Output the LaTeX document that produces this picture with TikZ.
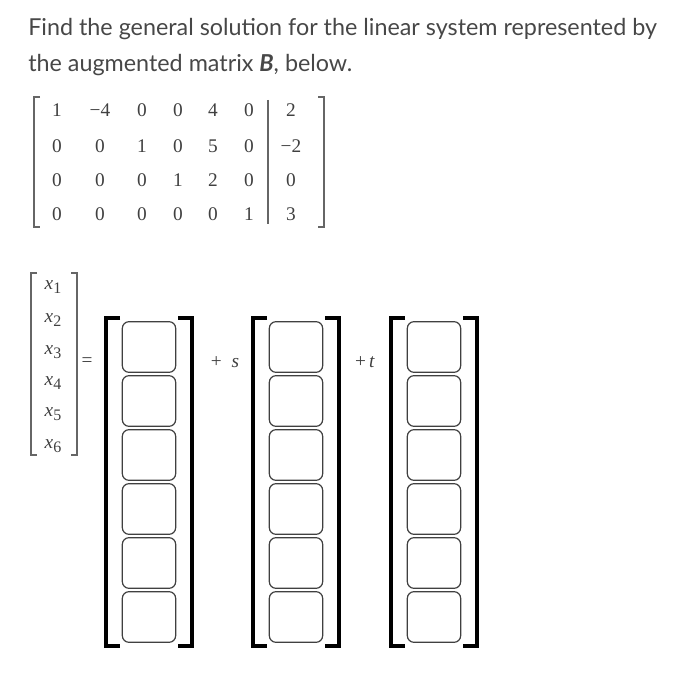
\documentclass[tikz,border=0pt]{standalone}
\usepackage{fontspec}
\setmainfont{Liberation Serif}
\newfontfamily\uifont{Lato}
\newfontfamily\serifit{Liberation Serif}
\newcommand{\mns}{\char"2212\relax}
\newcommand{\xv}[1]{{\serifit\itshape x}\raisebox{-3pt}{\fontsize{12}{12}\selectfont #1}}
\begin{document}
\begin{tikzpicture}[x=0.75pt,y=-0.75pt,
  q/.style={font=\uifont\fontsize{17.5}{20}\selectfont,text=black!72,anchor=west,inner sep=0},
  m/.style={font=\fontsize{14.5}{16}\selectfont,text=black!75,inner sep=0},
  thin br/.style={draw=black!60,line width=1pt},
  big br/.style={draw=black,line width=2.6pt},
  ansbox/.style={draw=black!75,line width=0.9pt,rounded corners=5pt,fill=white}]
\useasboundingbox (0,0) rectangle (700,695);
\node[q] (l1) at (28,29) {Find the general solution for the linear system represented by};
\node[q] (l2) at (28,65) {the augmented matrix \textbf{\textit{B}}, below.};
% augmented matrix
\draw[thin br] (40,97) -- (34,97) -- (34,227) -- (40,227);
\draw[thin br] (318,97) -- (324,97) -- (324,227) -- (318,227);
\draw[thin br] (268,100) -- (268,224);
\foreach \y/\a/\b/\c/\d/\e/\f/\g [count=\i] in {110/1/\mns 4/0/0/4/0/2,146/0/0/1/0/5/0/\mns 2,180/0/0/0/1/2/0/0,214/0/0/0/0/0/1/3}{
  \node[m] (a\i1) at (57,\y) {\a};
  \node[m] (a\i2) at (100,\y) {\b};
  \node[m] (a\i3) at (142,\y) {\c};
  \node[m] (a\i4) at (178,\y) {\d};
  \node[m] (a\i5) at (213,\y) {\e};
  \node[m] (a\i6) at (249,\y) {\f};
  \node[m] (a\i7) at (291,\y) {\g};
}
% x vector
\draw[thin br] (37,273) -- (31,273) -- (31,455) -- (37,455);
\draw[thin br] (71,273) -- (77,273) -- (77,455) -- (71,455);
\foreach \y [count=\i] in {287,320,352,383,414,446}
  \node[m] (x\i) at (53,\y) {\xv{\i}};
\node[m] (eq) at (87,362) {=};
\node[m] (ps) at (225,362) {+\ \ \textit{s}};
\node[m] (pt) at (365,362) {+\,\textit{t}};
% answer columns
\foreach \c/\x in {1/106,2/253,3/391}{
  \draw[big br] (\x+14,318) -- (\x,318) -- (\x,646) -- (\x+14,646);
  \draw[big br] (\x+72,318) -- (\x+86,318) -- (\x+86,646) -- (\x+72,646);
  \foreach \k in {0,...,5}
    \node[ansbox,minimum width=40pt,minimum height=38pt] (b\c\k) at (\x+43,347+54*\k) {};
}
\end{tikzpicture}
\end{document}
